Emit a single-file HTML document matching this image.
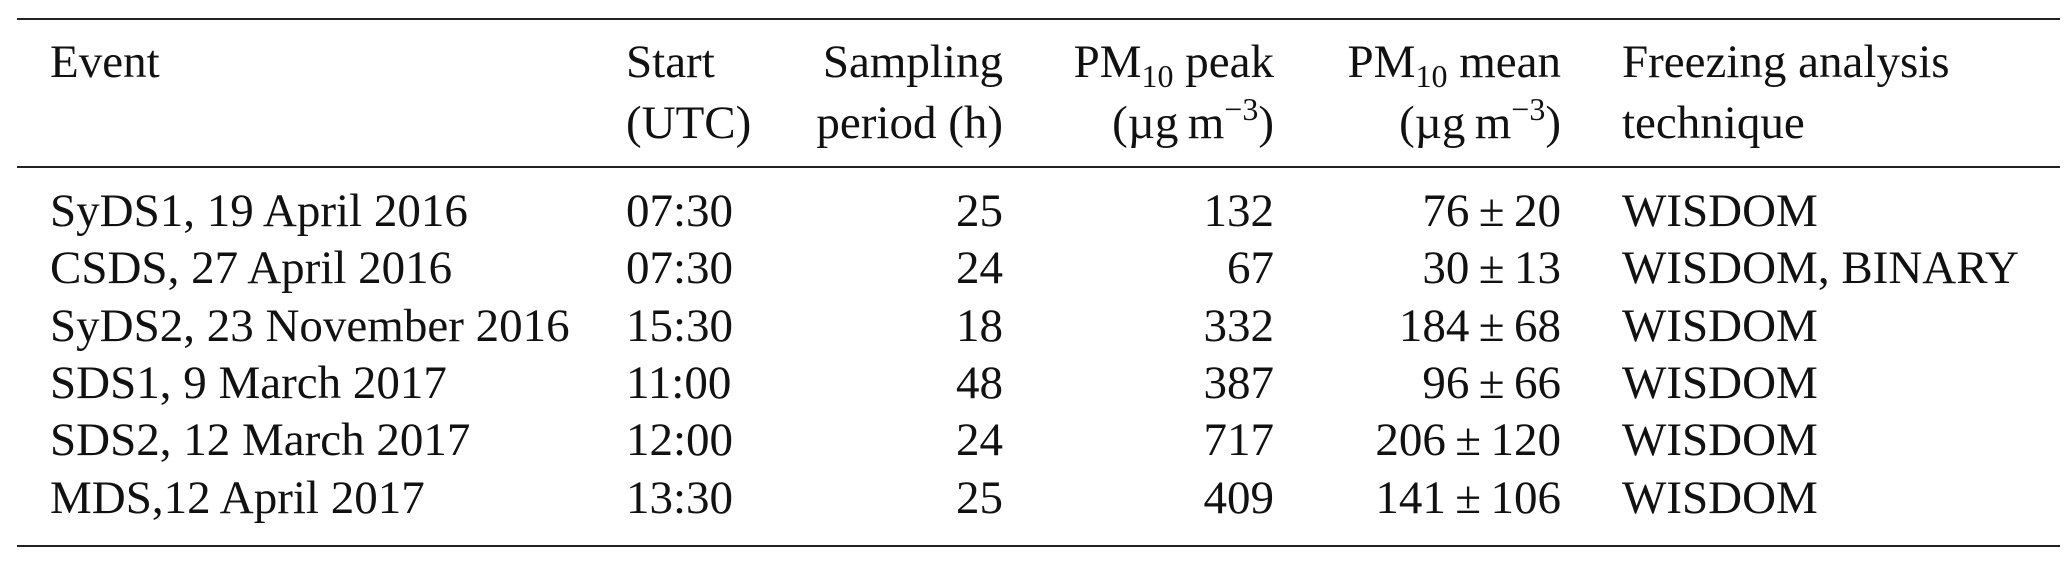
<!DOCTYPE html>
<html><head><meta charset="utf-8"><style>
body{margin:0;width:2067px;height:564px;background:#fff;position:relative;overflow:hidden;font-family:"Liberation Serif",serif;font-size:47px;color:#111}
.r{position:absolute;left:17px;width:2043px;height:2px;background:#222}
.t{position:absolute;white-space:nowrap;line-height:1}
.R{text-align:right}
sub{font-size:32px;vertical-align:-10px;line-height:0}
sup{font-size:32px;vertical-align:18px;line-height:0}
</style></head><body>
<div class="r" style="top:18px"></div>
<div class="r" style="top:166px"></div>
<div class="r" style="top:545px"></div>
<div id="c"></div>
<script>
const rows=[
["Event","Start","Sampling","PM<sub>10</sub> peak","PM<sub>10</sub> mean","Freezing analysis"],
["","(UTC)","period (h)","(µg&#8201;m<sup>−3</sup>)","(µg&#8201;m<sup>−3</sup>)","technique"],
["SyDS1, 19 April 2016","07:30","25","132","76&#8201;±&#8201;20","WISDOM"],
["CSDS, 27 April 2016","07:30","24","67","30&#8201;±&#8201;13","WISDOM, BINARY"],
["SyDS2, 23 November 2016","15:30","18","332","184&#8201;±&#8201;68","WISDOM"],
["SDS1, 9 March 2017","11:00","48","387","96&#8201;±&#8201;66","WISDOM"],
["SDS2, 12 March 2017","12:00","24","717","206&#8201;±&#8201;120","WISDOM"],
["MDS,12 April 2017","13:30","25","409","141&#8201;±&#8201;106","WISDOM"]];
const base=[77,138,226,283,341,398,455,513];
let h="";
rows.forEach((r,i)=>{const top=base[i]-38;
h+=`<div class="t" style="left:50px;top:${top}px">${r[0]}</div>`;
h+=`<div class="t" style="left:626px;top:${top}px">${r[1]}</div>`;
h+=`<div class="t R" style="right:${2067-1003}px;top:${top}px">${r[2]}</div>`;
h+=`<div class="t R" style="right:${2067-1274}px;top:${top}px">${r[3]}</div>`;
h+=`<div class="t R" style="right:${2067-1561}px;top:${top}px">${r[4]}</div>`;
h+=`<div class="t" style="left:1622px;top:${top}px">${r[5]}</div>`;});
document.getElementById("c").innerHTML=h;
</script>
</body></html>
